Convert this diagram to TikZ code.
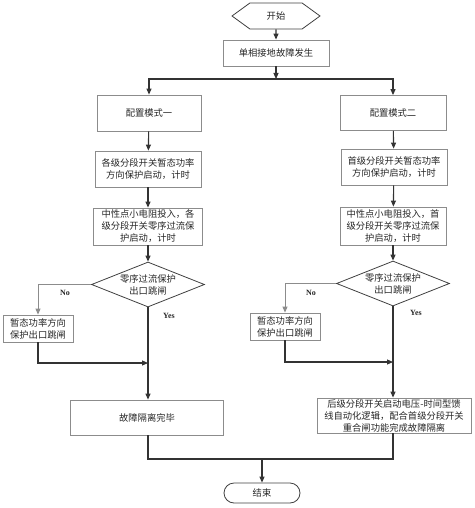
\documentclass[tikz,border=0pt]{standalone}
\usepackage{fontspec}
\setmainfont{Noto Sans CJK SC}
\newfontfamily\latinb{Liberation Serif}
\usetikzlibrary{shapes.geometric,shapes.symbols,arrows.meta}
\begin{document}
\begin{tikzpicture}[x=1pt,y=-1pt,
  every node/.style={font=\fontsize{9.3}{12}\selectfont, text=black!85},
  boxs/.style={draw=black!45, line width=0.8pt, rectangle, align=center, inner sep=1pt},
  dec/.style={draw=black!75, line width=0.8pt, diamond, aspect=2.5, inner sep=-2pt, align=center, minimum width=113pt, minimum height=45pt},
  conn/.style={draw=black!80, line width=1.1pt, -{Triangle[length=6pt,width=5pt]}},
  plain/.style={draw=black!80, line width=1.1pt},
  greyc/.style={draw=black!45, line width=0.9pt, -{Triangle[length=6pt,width=5pt]}, shorten <=0pt},
  lab/.style={font=\latinb\bfseries\fontsize{8}{10}\selectfont, text=black!85}
]
\useasboundingbox (0,0) rectangle (474,508);
% start / end
\node[draw=black!75, line width=0.8pt, signal, signal to=west and east, signal pointer angle=72, minimum width=88pt, minimum height=26pt, inner sep=0pt] (start) at (276,16) {开始};
\node[boxs, minimum width=106pt, minimum height=26pt] (b1) at (276,53) {单相接地故障发生};
\coordinate (split) at (276,79);
\node[boxs, minimum width=104pt, minimum height=36pt] (m1) at (149,113) {配置模式一};
\node[boxs, minimum width=106pt, minimum height=35pt] (m2) at (393,113) {配置模式二};
% left column
\node[boxs, minimum width=106pt, minimum height=36pt] (a1) at (148,169) {各级分段开关暂态功率\\方向保护启动，计时};
\node[boxs, minimum width=109pt, minimum height=37pt] (a2) at (148,226.5) {中性点小电阻投入，各\\级分段开关零序过流保\\护启动，计时};
\node[dec] (d1) at (148,284.5) {零序过流保护\\出口跳闸};
\node[boxs, minimum width=70pt, minimum height=27pt] (n1) at (38,328.5) {暂态功率方向\\保护出口跳闸};
\node[boxs, minimum width=153pt, minimum height=35pt] (f1) at (147,417.5) {故障隔离完毕};
\coordinate (j1) at (148,363);
% right column
\node[boxs, minimum width=106pt, minimum height=36pt] (a3) at (394,167) {首级分段开关暂态功率\\方向保护启动，计时};
\node[boxs, minimum width=106pt, minimum height=38pt] (a4) at (393,226) {中性点小电阻投入，首\\级分段开关零序过流保\\护启动，计时};
\node[dec] (d2) at (393,283.5) {零序过流保护\\出口跳闸};
\node[boxs, minimum width=70pt, minimum height=27pt] (n2) at (285,326.5) {暂态功率方向\\保护出口跳闸};
\node[boxs, minimum width=154pt, minimum height=35pt, inner sep=0.5pt] (f2) at (394,415.5) {后级分段开关启动电压-时间型馈\\线自动化逻辑，配合首级分段开关\\重合闸功能完成故障隔离};
\coordinate (j2) at (393,362);
\coordinate (merge) at (262,459);
\node[draw=black!75, line width=0.8pt, rounded corners=10pt, minimum width=76pt, minimum height=20pt, inner sep=0pt] (end) at (262,493) {结束};
% labels
\node[lab] at (65,293) {No};
\node[lab] at (169,316) {Yes};
\node[lab] at (311,293) {No};
\node[lab] at (416,313) {Yes};
% connectors
\draw[conn] (start) -- (b1);
\draw[conn] (b1) -- (split);
\draw[conn] (split) -| (m1);
\draw[conn] (split) -| (m2);
\draw[conn] (m1) -- (a1);
\draw[conn] (a1) -- (a2);
\draw[conn] (a2) -- (d1);
\draw[conn] (m2) -- (a3);
\draw[conn] (a3) -- (a4);
\draw[conn] (a4) -- (d2);
\draw[greyc] (d1.west) -| (n1.north);
\draw[greyc] (d2.west) -| (n2.north);
\draw[conn] (n1.south) |- (j1);
\draw[conn] (n2.south) |- (j2);
\draw[conn] (d1.south) -- (f1.north -| d1.south);
\draw[conn] (d2.south) -- (f2.north -| d2.south);
\draw[plain] (f1.south -| d1.south) |- (merge);
\draw[plain] (f2.south -| d2.south) |- (merge);
\draw[conn] (merge) -- (end);
\end{tikzpicture}
\end{document}
